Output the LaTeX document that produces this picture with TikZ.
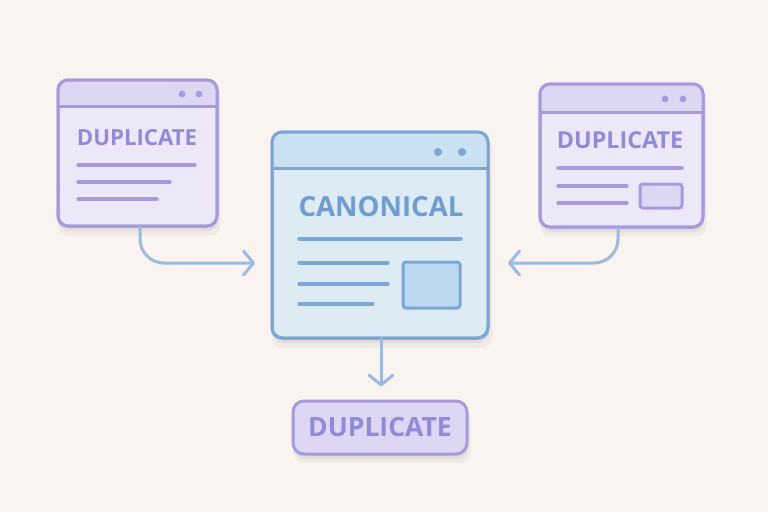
\documentclass[tikz,border=0pt]{standalone}
\usepackage{fontspec}
\setmainfont{Open Sans}
\usetikzlibrary{arrows.meta,positioning,shadows}
\definecolor{pagebg}{RGB}{250,244,240}
\definecolor{dupedge}{RGB}{163,155,221}
\definecolor{dupfill}{RGB}{237,232,247}
\definecolor{dupbar}{RGB}{222,215,244}
\definecolor{duptext}{RGB}{145,138,214}
\definecolor{canedge}{RGB}{124,166,214}
\definecolor{canfill}{RGB}{221,236,244}
\definecolor{canbar}{RGB}{201,225,241}
\definecolor{cantext}{RGB}{112,156,208}
\definecolor{canimg}{RGB}{187,216,240}
\definecolor{linkarrow}{RGB}{156,186,226}
\tikzset{
  softshadow/.style={drop shadow={shadow xshift=2pt,shadow yshift=-8pt,opacity=0.04,fill=black,shadow scale=1.02},
    drop shadow={shadow xshift=1pt,shadow yshift=-5pt,opacity=0.05,fill=black},
    drop shadow={shadow xshift=0pt,shadow yshift=-2pt,opacity=0.05,fill=black}},
  dupwin/.style={draw=dupedge,fill=dupfill,line width=3pt,rounded corners=10pt,
    inner sep=0pt,outer sep=0pt,softshadow},
  canwin/.style={draw=canedge,fill=canfill,line width=3pt,rounded corners=11pt,
    inner sep=0pt,outer sep=0pt,softshadow},
  textline/.style={line width=3.3pt,line cap=round},
  link/.style={draw=linkarrow,line width=3pt,
    -{Straight Barb[length=10pt,width=24pt,round]}},
}
% window frame: name, palette, x1, y1, x2, y2, bar bottom
\newcommand{\winframe}[7]{%
  \node[#2win,minimum width={(#5-#3)*1pt},minimum height={(#6-#4)*1pt}]
    (#1) at ({(#3+#5)/2},{(#4+#6)/2}) {};%
  \fill[#2bar] (#3,#7) [rounded corners=10pt] -- (#3,#4) -- (#5,#4) [sharp corners] -- (#5,#7) -- cycle;%
  \draw[#2edge,line width=3pt] (#3,#7) -- (#5,#7);%
  \draw[#2edge,line width=3pt,rounded corners=10pt] (#3,#4) rectangle (#5,#6);%
}

\begin{document}
\begin{tikzpicture}[x=1pt,y=-1pt]
  \fill[pagebg] (0,0) rectangle (768,512);

  % left duplicate
  \winframe{dupL}{dup}{58}{80}{217}{226}{106}
  \fill[dupedge] (182,94) circle (3.4pt) (199,94) circle (3.4pt);
  \node[font=\bfseries\fontsize{22.2}{26}\selectfont,text=duptext] (dupLtitle) at (137,138) {DUPLICATE};
  \draw[dupedge,textline] (78,165) -- (195,165) (78,182) -- (170,182) (78,199) -- (157,199);

  % canonical page
  \winframe{canon}{can}{272}{132}{488}{338}{168}
  \fill[canedge] (438,152) circle (4pt) (462,152) circle (4pt);
  \node[font=\bfseries\fontsize{27.6}{32}\selectfont,text=cantext] (canTitle) at (381,207) {CANONICAL};
  \draw[canedge,textline] (299,239) -- (461,239) (299,263) -- (388,263) (299,284) -- (388,284) (299,304) -- (373,304);
  \draw[canedge,fill=canimg,line width=3pt,rounded corners=3pt] (403,262) rectangle (460,308);

  % right duplicate
  \winframe{dupR}{dup}{540}{84}{703}{227}{112}
  \fill[dupedge] (665,99) circle (3.4pt) (683,99) circle (3.4pt);
  \node[font=\bfseries\fontsize{23.3}{27}\selectfont,text=duptext] (dupRtitle) at (620,140) {DUPLICATE};
  \draw[dupedge,textline] (558,168) -- (682,168) (558,186) -- (627,186) (558,203) -- (627,203);
  \draw[dupedge,fill=dupbar,line width=3pt,rounded corners=3pt] (640,184) rectangle (682,208);

  % bottom duplicate tag
  \node[draw=dupedge,fill=dupbar,line width=3pt,rounded corners=11pt,softshadow,
    minimum width=174pt,minimum height=53pt,inner sep=0pt,
    font=\bfseries\fontsize{26.5}{30}\selectfont,text=duptext] (dupB) at (380,427.5) {DUPLICATE};

  % links to the canonical page
  \coordinate (tipL) at (255,263);
  \coordinate (tipR) at (508,263);
  \draw[link,rounded corners=24pt] ([xshift=2.5pt]dupL.south) |- (tipL);
  \draw[link,rounded corners=24pt] ([xshift=-3.5pt]dupR.south) |- (tipR);
  \draw[link,shorten >=13pt] ([xshift=1pt]canon.south) -- ([xshift=1pt]dupB.north);
\end{tikzpicture}
\end{document}
